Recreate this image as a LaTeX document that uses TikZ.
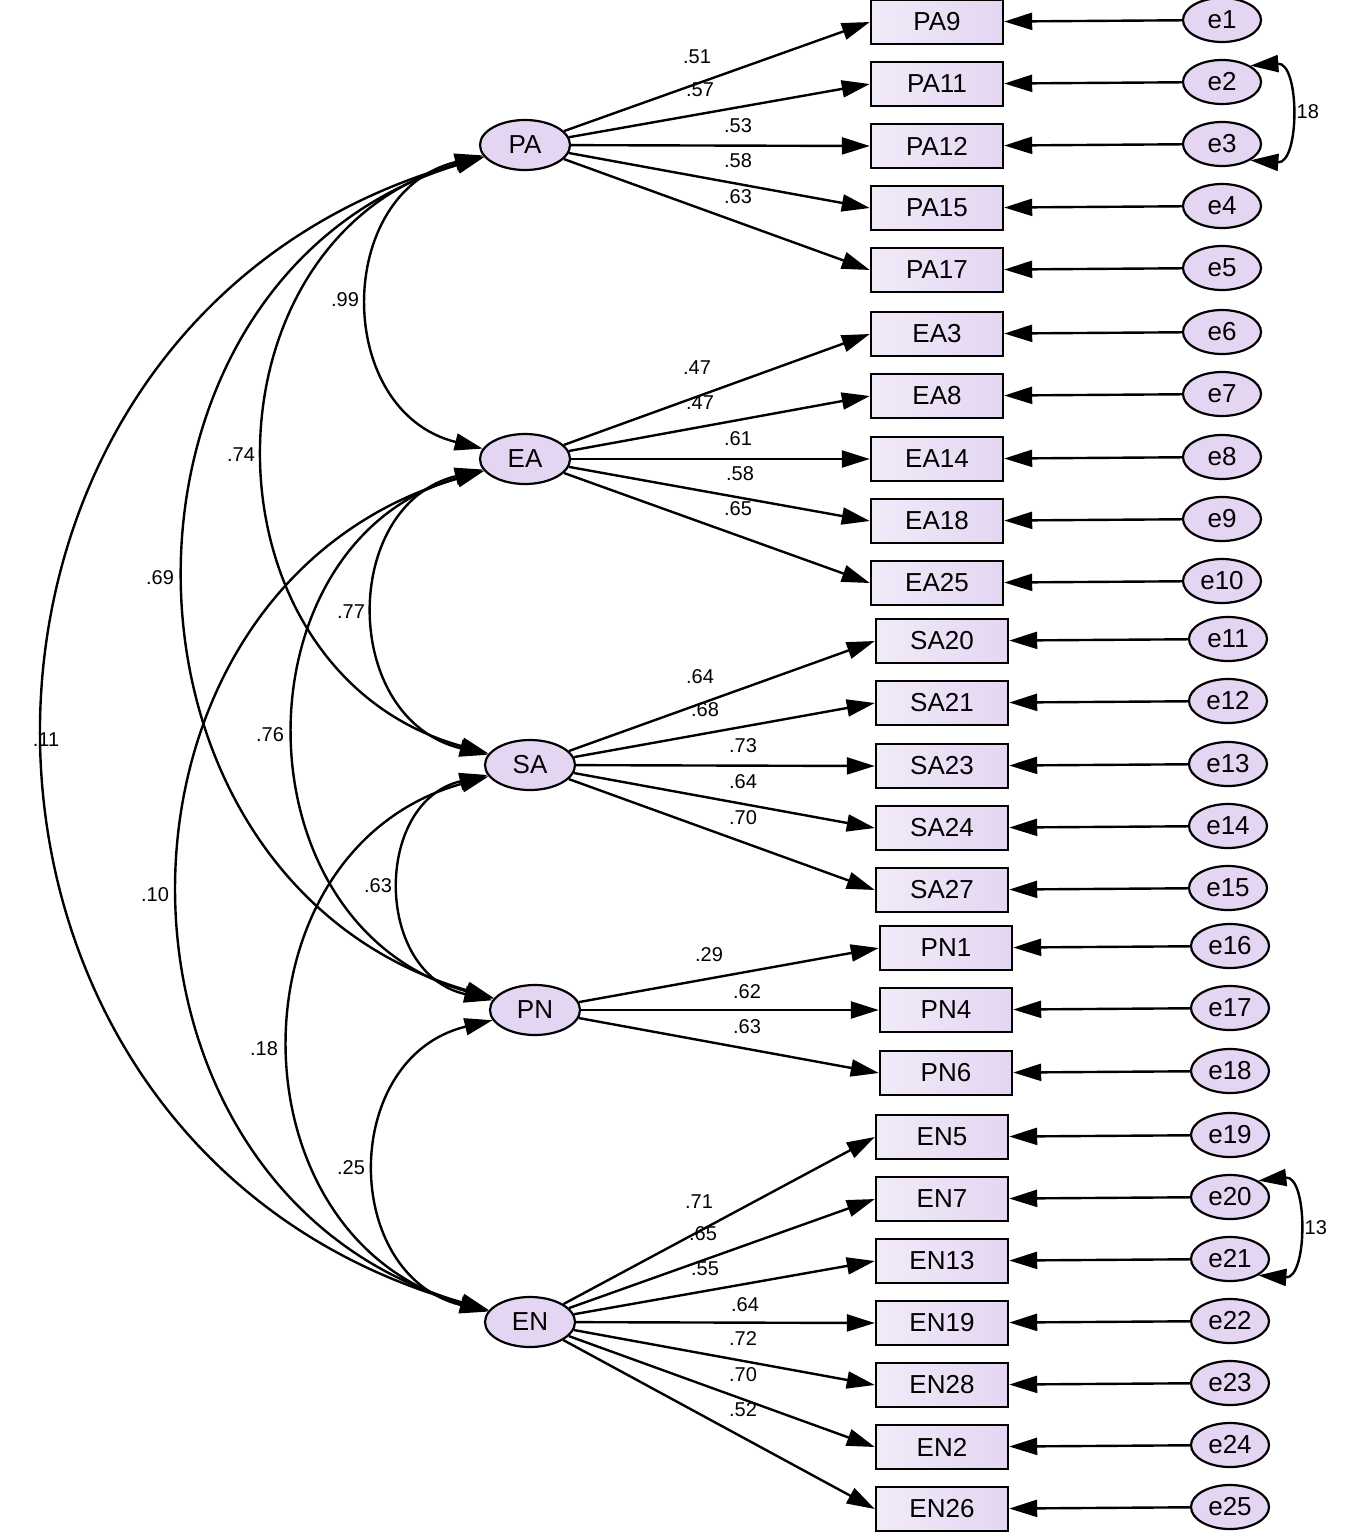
\documentclass[tikz,border=0pt]{standalone}
\usepackage{fontspec}
\setmainfont{Liberation Sans}
\usetikzlibrary{arrows.meta,shapes.geometric}
\definecolor{lav}{RGB}{228,214,242}
\begin{document}
\begin{tikzpicture}[x=1pt,y=-1pt,
  lat/.style={ellipse,draw,line width=2.2pt,fill=lav,minimum width=90pt,minimum height=50pt,inner sep=0pt,font=\fontsize{26}{30}\selectfont},
  err/.style={ellipse,draw,line width=2.2pt,fill=lav,minimum width=78pt,minimum height=44pt,inner sep=0pt,font=\fontsize{26}{30}\selectfont},
  obs/.style={rectangle,draw,line width=2.4pt,left color=lav!50!white,right color=lav,minimum width=132pt,minimum height=44pt,inner sep=0pt,font=\fontsize{26}{30}\selectfont},
  arr/.style={line width=2.4pt,-{Triangle[length=28pt,width=17pt]}},
  cov/.style={line width=2.4pt,{Triangle[length=28pt,width=17pt]}-{Triangle[length=28pt,width=17pt]}},
  lab/.style={font=\fontsize{20}{24}\selectfont,inner sep=0pt}]
\useasboundingbox (0,0) rectangle (1344,1536);
\node[lat] (PA) at (525,145) {PA};
\node[lat] (EA) at (525,459) {EA};
\node[lat] (SA) at (530,765) {SA};
\node[lat] (PN) at (535,1010) {PN};
\node[lat] (EN) at (530,1322) {EN};
\foreach \n/\y/\bx/\ex/\e/\L in {PA9/22/937/1222/e1/PA,PA11/84/937/1222/e2/PA,PA12/146/937/1222/e3/PA,PA15/208/937/1222/e4/PA,PA17/270/937/1222/e5/PA,
 EA3/334/937/1222/e6/EA,EA8/396/937/1222/e7/EA,EA14/459/937/1222/e8/EA,EA18/521/937/1222/e9/EA,EA25/583/937/1222/e10/EA,
 SA20/641/942/1228/e11/SA,SA21/703/942/1228/e12/SA,SA23/766/942/1228/e13/SA,SA24/828/942/1228/e14/SA,SA27/890/942/1228/e15/SA,
 PN1/948/946/1230/e16/PN,PN4/1010/946/1230/e17/PN,PN6/1073/946/1230/e18/PN,
 EN5/1137/942/1230/e19/EN,EN7/1199/942/1230/e20/EN,EN13/1261/942/1230/e21/EN,EN19/1323/942/1230/e22/EN,EN28/1385/942/1230/e23/EN,EN2/1447/942/1230/e24/EN,EN26/1509/942/1230/e25/EN}{
  \node[obs] (\n) at (\bx,\y) {\n};
  \node[err] (\e) at (\ex,\y-2) {\e};
  \draw[arr] (\e) -- (\n);
  \draw[arr] (\L) -- (\n.west);
}
\foreach \t/\x/\y in {.51/697/57,.57/700/90,.53/738/126,.58/738/161,.63/738/197,
 .47/697/368,.47/700/403,.61/738/439,.58/740/474,.65/738/509,
 .64/700/677,.68/705/710,.73/743/746,.64/743/782,.70/743/818,
 .29/709/955,.62/747/992,.63/747/1027,
 .71/699/1202,.65/703/1234,.55/705/1269,.64/745/1305,.72/743/1339,.70/743/1375,.52/743/1410,
 .99/345/300,.74/241/455,.69/160/578,.11/46/740,.77/351/612,.76/270/735,.10/155/895,.63/378/886,.18/264/1049,.25/351/1168,
 .18/1305/112,.13/1313/1228}
  \node[lab] at (\x,\y) {\t};
% covariances
\foreach \a/\b/\ya/\yb/\xm in {PA/EA/145/459/370,PA/SA/145/765/265,PA/PN/145/1010/185,PA/EN/145/1322/45,EA/SA/459/765/375,EA/PN/459/1010/295,EA/EN/459/1322/180,SA/PN/765/1010/400,SA/EN/765/1322/290,PN/EN/1010/1322/375}{
  \pgfmathsetmacro\cx{480-(480-\xm)/0.75}
  \pgfmathsetmacro\k{0.15*(\yb-\ya)}
  \draw[cov] (\a) .. controls (\cx,\ya+\k) and (\cx,\yb-\k) .. (\b);
}
\draw[cov] (e2.north east) .. controls (1300,62) and (1300,164) .. (e3.south east);
\draw[cov] (e20.north east) .. controls (1308,1175) and (1308,1279) .. (e21.south east);
\end{tikzpicture}
\end{document}
